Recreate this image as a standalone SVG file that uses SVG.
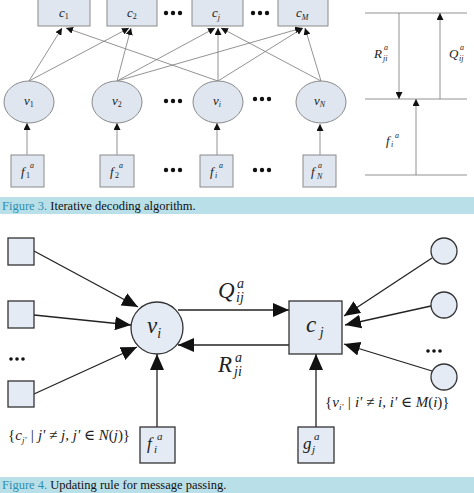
<svg xmlns="http://www.w3.org/2000/svg" width="474" height="493" viewBox="0 0 474 493">
<defs>
<style>
.bx{fill:#dfe6f0;stroke:#8a8a8a;stroke-width:1}
.el{fill:#dfe6f0;stroke:#8a8a8a;stroke-width:1}
.tln{stroke:#777;stroke-width:0.8;fill:none}
.bn{fill:#e4ebf5;stroke:#333;stroke-width:1.3}
.bln{stroke:#222;stroke-width:1.3;fill:none}
.t{font-family:"Liberation Serif","DejaVu Serif",serif;font-style:italic;fill:#222}
.s{font-size:13px}
.ss{font-size:8px}
.b{font-size:23px}
.bs{font-size:14px}
.dot{fill:#111}
.cap{font-family:"Liberation Serif",serif;font-size:12.5px;fill:#111}
.capb{fill:#2c8fb2}
</style>
<marker id="sa" markerWidth="7" markerHeight="7" refX="7" refY="3.5" orient="auto" markerUnits="userSpaceOnUse"><path d="M0,0L7,3.5L0,7z" fill="#111"/></marker>
<marker id="ba" markerWidth="16" markerHeight="14" refX="16" refY="7" orient="auto" markerUnits="userSpaceOnUse"><path d="M0,0L16,7L0,14z" fill="#111"/></marker>
</defs>
<rect width="474" height="493" fill="#fff"/>

<!-- ===== Figure 3 ===== -->
<g id="connectors-top">
<line class="tln" x1="29" y1="81" x2="62" y2="28" marker-end="url(#sa)"/>
<line class="tln" x1="29" y1="81" x2="129" y2="28" marker-end="url(#sa)"/>
<line class="tln" x1="117" y1="81" x2="131" y2="28" marker-end="url(#sa)"/>
<line class="tln" x1="117" y1="81" x2="215" y2="28" marker-end="url(#sa)"/>
<line class="tln" x1="117" y1="81" x2="302" y2="28" marker-end="url(#sa)"/>
<line class="tln" x1="218" y1="81" x2="66" y2="28" marker-end="url(#sa)"/>
<line class="tln" x1="218" y1="81" x2="218" y2="28" marker-end="url(#sa)"/>
<line class="tln" x1="218" y1="81" x2="303" y2="28" marker-end="url(#sa)"/>
<line class="tln" x1="321" y1="81" x2="221" y2="28" marker-end="url(#sa)"/>
<line class="tln" x1="321" y1="81" x2="305" y2="28" marker-end="url(#sa)"/>
<line class="tln" x1="27" y1="155" x2="27" y2="123" marker-end="url(#sa)"/>
<line class="tln" x1="117" y1="155" x2="117" y2="123" marker-end="url(#sa)"/>
<line class="tln" x1="217" y1="155" x2="217" y2="123" marker-end="url(#sa)"/>
<line class="tln" x1="320" y1="155" x2="320" y2="124" marker-end="url(#sa)"/>
<line class="tln" x1="365" y1="13" x2="467" y2="13"/>
<line class="tln" x1="365" y1="99" x2="467" y2="99"/>
<line class="tln" x1="365" y1="175" x2="467" y2="175"/>
<line class="tln" x1="399" y1="13" x2="399" y2="99" marker-end="url(#sa)"/>
<line class="tln" x1="440" y1="99" x2="440" y2="13" marker-end="url(#sa)"/>
<line class="tln" x1="416" y1="175" x2="416" y2="99" marker-end="url(#sa)"/>
</g>

<g id="c1"><rect class="bx" x="38" y="-2" width="52" height="28"/><text class="t s" x="59" y="17">c<tspan class="ss" font-style="normal" dy="2">1</tspan></text></g>
<g id="c2"><rect class="bx" x="107" y="-2" width="50" height="28"/><text class="t s" x="127" y="17">c<tspan class="ss" font-style="normal" dy="2">2</tspan></text></g>
<g id="cj"><rect class="bx" x="192" y="-2" width="51" height="28"/><text class="t s" x="212" y="17">c<tspan class="ss" dy="3">j</tspan></text></g>
<g id="cM"><rect class="bx" x="278" y="-2" width="50" height="28"/><text class="t s" x="296" y="17">c<tspan class="ss" dy="3">M</tspan></text></g>
<g id="dots-top">
<circle class="dot" cx="166" cy="13" r="2.2"/><circle class="dot" cx="173" cy="13" r="2.2"/><circle class="dot" cx="180" cy="13" r="2.2"/>
<circle class="dot" cx="253" cy="13" r="2.2"/><circle class="dot" cx="260" cy="13" r="2.2"/><circle class="dot" cx="267" cy="13" r="2.2"/>
<circle class="dot" cx="166" cy="101" r="2.2"/><circle class="dot" cx="173" cy="101" r="2.2"/><circle class="dot" cx="180" cy="101" r="2.2"/>
<circle class="dot" cx="255" cy="99" r="2.2"/><circle class="dot" cx="262" cy="99" r="2.2"/><circle class="dot" cx="269" cy="99" r="2.2"/>
<circle class="dot" cx="166" cy="170" r="2.2"/><circle class="dot" cx="173" cy="170" r="2.2"/><circle class="dot" cx="180" cy="170" r="2.2"/>
<circle class="dot" cx="255" cy="170" r="2.2"/><circle class="dot" cx="262" cy="170" r="2.2"/><circle class="dot" cx="269" cy="170" r="2.2"/>
</g>
<g id="v1"><ellipse class="el" cx="29" cy="102" rx="25" ry="21"/><text class="t s" x="24" y="105">v<tspan class="ss" font-style="normal" dy="2">1</tspan></text></g>
<g id="v2"><ellipse class="el" cx="117" cy="102" rx="25" ry="21"/><text class="t s" x="112" y="105">v<tspan class="ss" font-style="normal" dy="2">2</tspan></text></g>
<g id="vi"><ellipse class="el" cx="218" cy="102" rx="25" ry="21"/><text class="t s" x="213" y="105">v<tspan class="ss" dy="2">i</tspan></text></g>
<g id="vN"><ellipse class="el" cx="321" cy="102" rx="25" ry="21"/><text class="t s" x="314" y="105">v<tspan class="ss" dy="2">N</tspan></text></g>

<g id="f1"><rect class="bx" x="11" y="155" width="33" height="32"/><text class="t s" x="21" y="176">f<tspan class="ss" font-style="normal" x="26" y="178">1</tspan><tspan class="ss" x="30" y="168">a</tspan></text></g>
<g id="f2"><rect class="bx" x="100" y="155" width="34" height="32"/><text class="t s" x="110" y="176">f<tspan class="ss" font-style="normal" x="115" y="178">2</tspan><tspan class="ss" x="119" y="168">a</tspan></text></g>
<g id="fi"><rect class="bx" x="200" y="155" width="33" height="32"/><text class="t s" x="210" y="176">f<tspan class="ss" x="215" y="178">i</tspan><tspan class="ss" x="219" y="168">a</tspan></text></g>
<g id="fN"><rect class="bx" x="303" y="155" width="33" height="32"/><text class="t s" x="311" y="176">f<tspan class="ss" x="317" y="179">N</tspan><tspan class="ss" x="318" y="168">a</tspan></text></g>

<g id="labels-right">
<text class="t s" x="374" y="58">R<tspan class="ss" x="383" y="61">ji</tspan><tspan class="ss" x="384" y="50">a</tspan></text>
<text class="t s" x="449" y="58">Q<tspan class="ss" x="459" y="61">ij</tspan><tspan class="ss" x="460" y="50">a</tspan></text>
<text class="t s" x="386" y="145">f<tspan class="ss" x="391" y="147">i</tspan><tspan class="ss" x="395" y="138">a</tspan></text>
</g>

<g id="caption3">
<rect x="0" y="197" width="474" height="17" fill="#b9dfe8"/>
<text class="cap" x="2" y="210"><tspan class="capb">Figure 3.</tspan> Iterative decoding algorithm.</text>
</g>

<!-- ===== Figure 4 ===== -->
<g id="connectors-bottom">
<line class="bln" x1="34" y1="251" x2="138" y2="307" marker-end="url(#ba)"/>
<line class="bln" x1="34" y1="315" x2="131" y2="325" marker-end="url(#ba)"/>
<line class="bln" x1="34" y1="394" x2="137" y2="347" marker-end="url(#ba)"/>
<line class="bln" x1="178" y1="310" x2="289" y2="310" marker-end="url(#ba)"/>
<line class="bln" x1="289" y1="345" x2="178" y2="345" marker-end="url(#ba)"/>
<line class="bln" x1="157" y1="427" x2="157" y2="354" marker-end="url(#ba)"/>
<line class="bln" x1="316" y1="427" x2="316" y2="354" marker-end="url(#ba)"/>
<line class="bln" x1="432" y1="258" x2="344" y2="316" marker-end="url(#ba)"/>
<line class="bln" x1="431" y1="306" x2="345" y2="325" marker-end="url(#ba)"/>
<line class="bln" x1="432" y1="371" x2="344" y2="344" marker-end="url(#ba)"/>
</g>

<g id="sq1"><rect class="bn" x="8" y="238" width="26" height="27"/></g>
<g id="sq2"><rect class="bn" x="8" y="301" width="26" height="27"/></g>
<g id="sq3"><rect class="bn" x="8" y="381" width="26" height="26"/></g>
<g id="dots-left"><circle class="dot" cx="11" cy="359" r="1.8"/><circle class="dot" cx="17" cy="359" r="1.8"/><circle class="dot" cx="23" cy="359" r="1.8"/></g>

<g id="vi-b"><circle class="bn" cx="157" cy="328" r="26"/><text class="t b" x="147" y="333">v<tspan class="bs" dy="5">i</tspan></text></g>
<g id="cj-b"><rect class="bn" x="289" y="301" width="53" height="53"/><text class="t b" x="306" y="332">c<tspan class="bs" dy="5"> j</tspan></text></g>

<g id="ci1"><circle class="bn" cx="444" cy="251" r="13"/></g>
<g id="ci2"><circle class="bn" cx="444" cy="305" r="13"/></g>
<g id="ci3"><circle class="bn" cx="444" cy="377" r="13"/></g>
<g id="dots-right"><circle class="dot" cx="428" cy="351" r="1.8"/><circle class="dot" cx="434" cy="351" r="1.8"/><circle class="dot" cx="440" cy="351" r="1.8"/></g>

<g id="fia-b"><rect class="bn" x="140" y="427" width="35" height="36"/><text class="t" font-size="17" x="147" y="449">f<tspan font-size="11" x="154" y="453">i</tspan><tspan font-size="11" x="157" y="440">a</tspan></text></g>
<g id="gja-b"><rect class="bn" x="298" y="427" width="36" height="36"/><text class="t" font-size="17" x="303" y="449">g<tspan font-size="11" x="312" y="453">j</tspan><tspan font-size="11" x="314" y="440">a</tspan></text></g>

<g id="labels-bottom">
<text class="t b" x="218" y="298">Q<tspan class="bs" x="236" y="302">ij</tspan><tspan class="bs" x="237" y="288">a</tspan></text>
<text class="t b" x="218" y="372">R<tspan class="bs" x="234" y="376">ji</tspan><tspan class="bs" x="235" y="362">a</tspan></text>
<text class="t" font-size="15" x="8" y="440"><tspan font-style="normal">{</tspan>c<tspan font-size="9" dy="3">j'</tspan><tspan dy="-3"> | j' ≠ j, j' ∈ N</tspan><tspan font-style="normal">(</tspan>j<tspan font-style="normal">)}</tspan></text>
<text class="t" font-size="15" x="325" y="407"><tspan font-style="normal">{</tspan>v<tspan font-size="9" dy="3">i'</tspan><tspan dy="-3"> | i' ≠ i, i' ∈ M</tspan><tspan font-style="normal">(</tspan>i<tspan font-style="normal">)}</tspan></text>
</g>

<g id="caption4">
<rect x="0" y="477" width="474" height="16" fill="#b9dfe8"/>
<text class="cap" x="2" y="489"><tspan class="capb">Figure 4.</tspan> Updating rule for message passing.</text>
</g>
</svg>
